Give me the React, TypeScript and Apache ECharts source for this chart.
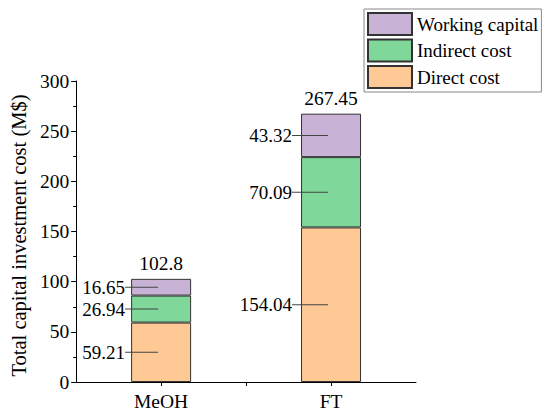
import React, { useEffect, useRef } from 'react';
import * as echarts from 'echarts';

const categories = ['MeOH', 'FT'];
const directCost = [59.21, 154.04];
const indirectCost = [26.94, 70.09];
const workingCapital = [16.65, 43.32];
const seriesNames = ['Direct cost', 'Indirect cost', 'Working capital'];
const legendOrder = ['Working capital', 'Indirect cost', 'Direct cost'];
const colors = ['#fec994', '#7fd79a', '#c8b2d6'];
const leaderLength = [33, 36];

const FONT = "'Liberation Serif', serif";

// the axis has a tick between and around the two bars, so spread
// categories over slots 1 and 3 of a 5 slot axis
const slotOf = (i: number) => i * 2 + 1;
const axisSlots = ['', categories[0], '', categories[1], ''];
const toSlots = (arr: number[]) =>
  axisSlots.map((_, s) => (s % 2 === 1 ? arr[(s - 1) / 2] : '-'));

const App: React.FC = () => {
  const chartRef = useRef<HTMLDivElement>(null);

  useEffect(() => {
    if (!chartRef.current) return;
    const myChart = echarts.init(chartRef.current, null, { renderer: 'svg' });

    const totals = categories.map((_, i) =>
      parseFloat((directCost[i] + indirectCost[i] + workingCapital[i]).toFixed(2))
    );

    const segLabel = {
      show: true,
      position: 'inside',
      align: 'right',
      offset: [-3, 0],
      color: '#000',
      formatter: (p: any) => `{v|${p.value}}{l${(p.dataIndex - 1) / 2}|}`,
      rich: {
        v: { fontFamily: FONT, fontSize: 19, color: '#000' },
        l0: { width: leaderLength[0], height: 1, backgroundColor: '#444' },
        l1: { width: leaderLength[1], height: 1, backgroundColor: '#444' },
      },
    };

    const barSeries = [directCost, indirectCost, workingCapital].map((data, k) => ({
      name: seriesNames[k],
      type: 'bar',
      stack: 'total',
      barWidth: 60,
      data: toSlots(data),
      itemStyle: { color: colors[k], borderColor: '#333', borderWidth: 1 },
      label: segLabel,
      emphasis: { disabled: true },
    }));

    const option = {
      animation: false,
      textStyle: { fontFamily: FONT },
      grid: { left: 71, right: 134, top: 81, bottom: 32 },
      legend: {
        data: legendOrder,
        orient: 'vertical',
        left: 364,
        top: 9,
        itemWidth: 44,
        itemHeight: 22,
        itemGap: 2.5,
        padding: 3,
        borderColor: '#888',
        borderWidth: 1,
        icon: 'rect',
        textStyle: { fontFamily: FONT, fontSize: 19, color: '#000' },
      },
      xAxis: {
        type: 'category',
        data: axisSlots,
        boundaryGap: false,
        axisLine: { lineStyle: { color: '#000', width: 1 } },
        axisTick: {
          show: true,
          length: 4,
          interval: (index: number) => index > 0 && index < axisSlots.length - 1,
          lineStyle: { color: '#000', width: 1 },
        },
        axisLabel: { fontFamily: FONT, fontSize: 19.5, color: '#000', margin: 9, interval: 0 },
      },
      yAxis: {
        type: 'value',
        min: 0,
        max: 300,
        interval: 50,
        name: 'Total capital investment cost (M$)',
        nameLocation: 'middle',
        nameGap: 40,
        nameTextStyle: { fontFamily: FONT, fontSize: 20.5, color: '#000', padding: [0, 8, 0, 0] },
        axisLine: { show: true, lineStyle: { color: '#000', width: 1 } },
        axisTick: { show: true, length: 5, lineStyle: { color: '#000' } },
        minorTick: { show: true, splitNumber: 2, length: 3, lineStyle: { color: '#000' } },
        splitLine: { show: false },
        axisLabel: { fontFamily: FONT, fontSize: 19.5, color: '#000', margin: 7 },
      },
      series: [
        ...barSeries,
        {
          name: 'Total',
          type: 'scatter',
          data: totals.map((t, i) => [slotOf(i), t]),
          symbolSize: 0,
          itemStyle: { opacity: 1 },
          label: {
            show: true,
            position: 'top',
            distance: 5,
            fontFamily: FONT,
            fontSize: 19.5,
            color: '#000',
            formatter: (p: any) => `${p.value[1]}`,
          },
          emphasis: { disabled: true },
          z: 5,
        },
      ],
    };

    myChart.setOption(option);
    return () => {
      myChart.dispose();
    };
  }, []);

  return (
    <div
      ref={chartRef}
      style={{ position: 'fixed', left: 0, top: 0, width: 550, height: 414, background: '#fff' }}
    ></div>
  );
};

export default App;
